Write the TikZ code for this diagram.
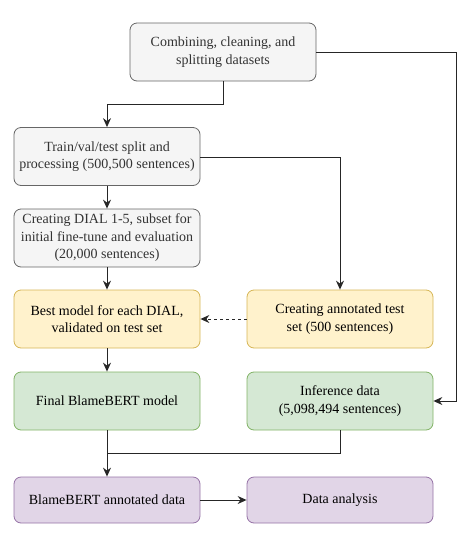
\documentclass[tikz,border=0pt]{standalone}
\usepackage{fontspec}
\setmainfont{Liberation Serif}
\usetikzlibrary{arrows.meta}
\definecolor{gfill}{HTML}{F5F5F5}\definecolor{gdraw}{HTML}{666666}
\definecolor{yfill}{HTML}{FFF2CC}\definecolor{ydraw}{HTML}{D6B656}
\definecolor{grfill}{HTML}{D5E8D4}\definecolor{grdraw}{HTML}{82B366}
\definecolor{pfill}{HTML}{E1D5E7}\definecolor{pdraw}{HTML}{9673A6}
\definecolor{txt}{HTML}{333333}
\tikzset{
  base/.style={rectangle, rounded corners=7pt, minimum width=186pt, minimum height=58pt, align=center, font=\fontsize{14}{17.5}\selectfont, inner sep=2pt, line width=0.8pt},
  greybox/.style={base, fill=gfill, draw=gdraw, text=txt},
  yellowbox/.style={base, fill=yfill, draw=ydraw},
  greenbox/.style={base, fill=grfill, draw=grdraw},
  purplebox/.style={base, fill=pfill, draw=pdraw, minimum height=46pt},
  conn/.style={draw=black!85, line width=0.9pt, -{Stealth[length=9pt,width=8pt,inset=3pt]}},
  plain/.style={draw=black!85, line width=0.9pt}
}
\begin{document}
\begin{tikzpicture}[x=1pt,y=-1pt]
\useasboundingbox (0,0) rectangle (468,542);
\node[greybox] (comb) at (223,52) {Combining, cleaning, and\\splitting datasets};
\node[greybox] (train) at (107,156.5) {Train/val/test split and\\processing (500,500 sentences)};
\node[greybox] (dial) at (107,238) {Creating DIAL 1-5, subset for\\initial fine-tune and evaluation\\(20,000 sentences)};
\node[yellowbox] (best) at (107,319) {Best model for each DIAL,\\validated on test set};
\node[yellowbox] (annot) at (340,319) {Creating annotated test\\set (500 sentences)};
\node[greenbox] (final) at (107,401) {Final BlameBERT model};
\node[greenbox] (infer) at (340,401) {Inference data\\(5,098,494 sentences)};
\node[purplebox] (bba) at (107,500) {BlameBERT annotated data};
\node[purplebox] (ana) at (340,500) {Data analysis};
\coordinate (c1) at (223,104);
\coordinate (c2) at (107,104);
\coordinate (c3) at (456,52);
\coordinate (c4) at (456,401);
\coordinate (c5) at (340,157);
\coordinate (c6) at (340,453);
\coordinate (c7) at (107,453);
\draw[conn] (comb.south) -- (c1) -- (c2) -- (train.north);
\draw[conn] (comb.east) -- (c3) -- (c4) -- (infer.east);
\draw[conn] (train.east |- c5) -- (c5) -- (annot.north);
\draw[conn] (train) -- (dial);
\draw[conn] (dial) -- (best);
\draw[conn, dashed] (annot) -- (best);
\draw[conn] (best) -- (final);
\draw[conn] (final) -- (bba);
\draw[plain] (infer.south) -- (c6) -- (c7);
\draw[conn] (bba) -- (ana);
\end{tikzpicture}
\end{document}
